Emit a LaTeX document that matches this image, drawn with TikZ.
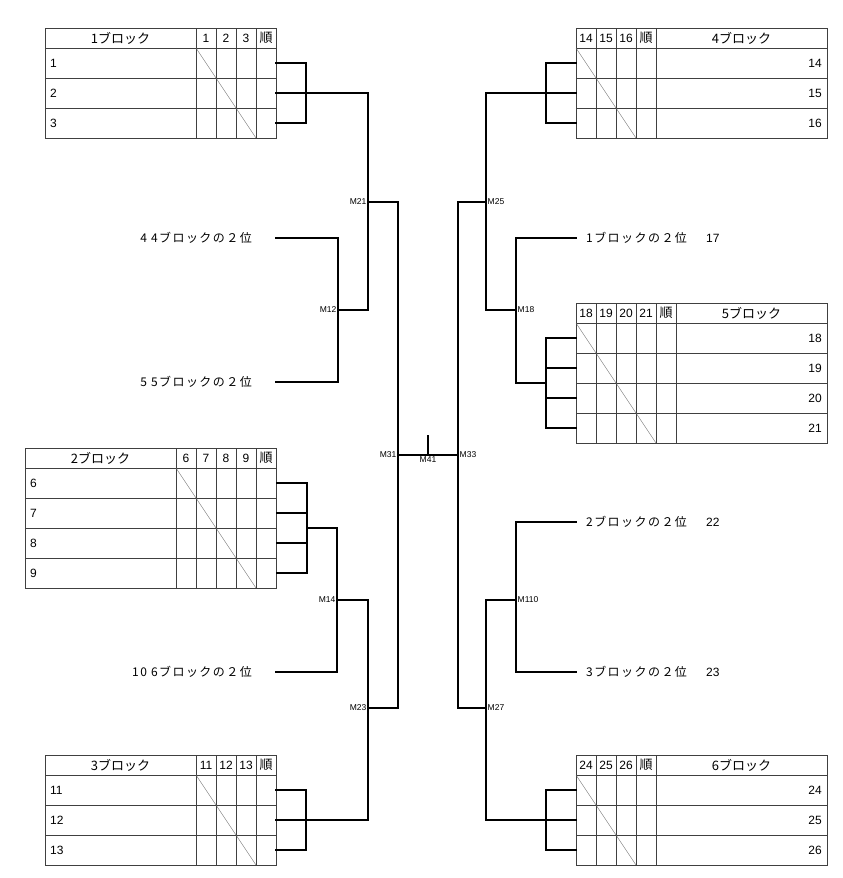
\documentclass[tikz,border=0pt]{standalone}
\usepackage{fontspec}
\setmainfont{Liberation Sans}
\newfontfamily\jp{Noto Sans CJK JP}
\newfontfamily\jpw[LetterSpace=12]{Noto Sans CJK JP}
\begin{document}
\begin{tikzpicture}[
    x=1pt, y=-1pt,
    grid/.style={draw=black!75, line width=0.6pt},
    diag/.style={draw=black!60, line width=0.4pt},
    conn/.style={line width=1.6pt, line cap=rect},
    num/.style={font=\fontsize{12}{14}\selectfont, inner sep=0pt},
    title/.style={font=\jp\fontsize{13}{15}\selectfont, inner sep=0pt},
    mlab/.style={font=\fontsize{8.5}{10}\selectfont, inner sep=1.5pt},
    seed/.style={font=\jpw\fontsize{12}{14}\selectfont, inner sep=0pt}
]
    \useasboundingbox (0,0) rectangle (843,878);

    % --- block with names on the left ---
    \newcommand{\leftblock}[5]{%
        \pgfmathsetmacro{\cx}{276-20*(#5+1)}
        \pgfmathsetmacro{\yb}{#2+20+30*#5}
        \draw[grid] (#1,#2) rectangle (276,\yb);
        \foreach \i in {0,...,#5} {
            \draw[grid] (#1,#2+20+30*\i) -- (276,#2+20+30*\i);
            \draw[grid] (\cx+20*\i,#2) -- (\cx+20*\i,\yb);
        }
        \foreach \i in {1,...,#5} {
            \pgfmathtruncatemacro{\n}{#4+\i-1}
            \node[num] at (\cx+20*\i-10,#2+10) {\n};
            \node[num, anchor=west] at (#1+5,#2+5+30*\i) {\n};
        }
        \node[title] at (266,#2+10) {順};
        \node[title] at ({(#1+\cx)/2},#2+10) {#3};
        \draw[diag] (\cx,#2+20) -- (\cx+20*#5,\yb);
    }
    % --- block with names on the right ---
    \newcommand{\rightblock}[4]{%
        \pgfmathsetmacro{\cx}{576+20*(#4+1)}
        \pgfmathsetmacro{\yb}{#1+20+30*#4}
        \draw[grid] (576,#1) rectangle (827,\yb);
        \foreach \i in {0,...,#4} {
            \draw[grid] (576,#1+20+30*\i) -- (827,#1+20+30*\i);
            \draw[grid] (596+20*\i,#1) -- (596+20*\i,\yb);
        }
        \foreach \i in {1,...,#4} {
            \pgfmathtruncatemacro{\n}{#3+\i-1}
            \node[num] at (566+20*\i,#1+10) {\n};
            \node[num, anchor=east] at (822,#1+5+30*\i) {\n};
        }
        \node[title] at (\cx-10,#1+10) {順};
        \node[title] at ({(827+\cx)/2},#1+10) {#2};
        \draw[diag] (576,#1+20) -- (576+20*#4,\yb);
    }

    % --- Tables ---
    \leftblock{45}{28}{1ブロック}{1}{3}
    \leftblock{25}{448}{2ブロック}{6}{4}
    \leftblock{45}{755}{3ブロック}{11}{3}
    \rightblock{28}{4ブロック}{14}{3}
    \rightblock{303}{5ブロック}{18}{4}
    \rightblock{755}{6ブロック}{24}{3}

    % --- Seeds ---
    \node[seed, anchor=east] (s4) at (252,238) {4 4ブロックの２位};
    \node[seed, anchor=east] (s5) at (252,382) {5 5ブロックの２位};
    \node[seed, anchor=east] (s10) at (252,672) {10 6ブロックの２位};
    \node[seed, anchor=west] (s17) at (586,238) {1ブロックの２位};
    \node[seed, anchor=west] (s22) at (586,522) {2ブロックの２位};
    \node[seed, anchor=west] (s23) at (586,672) {3ブロックの２位};
    \node[num, anchor=west] at (706,238) {17};
    \node[num, anchor=west] at (706,522) {22};
    \node[num, anchor=west] at (706,672) {23};

    % --- Left side ---
    \coordinate (p1) at (276,63);
    \coordinate (p2) at (276,93);
    \coordinate (p3) at (276,123);
    \coordinate (j1) at (306,93);
    \coordinate (t21) at (368,93);
    \coordinate (q4) at (276,238);
    \coordinate (q5) at (276,382);
    \coordinate (m12) at (338,310);
    \coordinate (m21) at (368,202);
    \coordinate (p6) at (277,483);
    \coordinate (p7) at (277,513);
    \coordinate (p8) at (277,543);
    \coordinate (p9) at (277,573);
    \coordinate (j2) at (307,528);
    \coordinate (t14) at (337,528);
    \coordinate (q10) at (276,672);
    \coordinate (m14) at (337,600);
    \coordinate (p11) at (276,790);
    \coordinate (p12) at (276,820);
    \coordinate (p13) at (276,850);
    \coordinate (j3) at (306,820);
    \coordinate (b23) at (368,820);
    \coordinate (m23) at (368,708);
    \coordinate (m31) at (398,455);

    \draw[conn] (p1) -| (j1) |- (p3);
    \draw[conn] (p2) -- (t21);
    \draw[conn] (q4) -| (m12) |- (q5);
    \draw[conn] (m12) -| (t21);
    \draw[conn] (m21) -| (m31);
    \draw[conn] (p6) -| (j2 |- p9) -- (p9);
    \draw[conn] (p7) -- (p7 -| j2);
    \draw[conn] (p8) -- (p8 -| j2);
    \draw[conn] (j2) -- (t14) |- (q10);
    \draw[conn] (m14) -| (b23);
    \draw[conn] (p11) -| (j3) |- (p13);
    \draw[conn] (p12) -- (b23);
    \draw[conn] (m23) -| (m31);

    % --- Right side ---
    \coordinate (r14) at (576,63);
    \coordinate (r15) at (576,93);
    \coordinate (r16) at (576,123);
    \coordinate (k1) at (546,93);
    \coordinate (t25) at (486,93);
    \coordinate (q17) at (576,238);
    \coordinate (m18) at (516,310);
    \coordinate (m25) at (486,202);
    \coordinate (r18) at (576,338);
    \coordinate (r19) at (576,368);
    \coordinate (r20) at (576,398);
    \coordinate (r21) at (576,428);
    \coordinate (k2) at (546,383);
    \coordinate (b18) at (516,383);
    \coordinate (q22) at (576,522);
    \coordinate (q23) at (576,672);
    \coordinate (m110) at (516,600);
    \coordinate (r24) at (576,790);
    \coordinate (r25) at (576,820);
    \coordinate (r26) at (576,850);
    \coordinate (k3) at (546,820);
    \coordinate (b27) at (486,820);
    \coordinate (m27) at (486,708);
    \coordinate (m33) at (458,455);

    \draw[conn] (r14) -| (k1) |- (r16);
    \draw[conn] (r15) -- (t25);
    \draw[conn] (q17) -| (b18) -- (k2);
    \draw[conn] (m18) -| (t25);
    \draw[conn] (m25) -| (m33);
    \draw[conn] (r18) -| (k2 |- r21) -- (r21);
    \draw[conn] (r19) -- (r19 -| k2);
    \draw[conn] (r20) -- (r20 -| k2);
    \draw[conn] (q22) -| (m110) |- (q23);
    \draw[conn] (m110) -| (b27);
    \draw[conn] (r24) -| (k3) |- (r26);
    \draw[conn] (r25) -- (b27);
    \draw[conn] (m27) -| (m33);

    % --- Final ---
    \coordinate (m41) at (428,455);
    \coordinate (t41) at (428,436);
    \draw[conn] (m31) -- (m33);
    \draw[conn] (m41) -- (t41);

    % --- Match labels ---
    \node[mlab, anchor=east] at (m21) {M21};
    \node[mlab, anchor=east] at (m12) {M12};
    \node[mlab, anchor=east] at (m14) {M14};
    \node[mlab, anchor=east] at (m23) {M23};
    \node[mlab, anchor=east] at (m31) {M31};
    \node[mlab, anchor=north] at (m41) {M41};
    \node[mlab, anchor=west] at (m33) {M33};
    \node[mlab, anchor=west] at (m25) {M25};
    \node[mlab, anchor=west] at (m18) {M18};
    \node[mlab, anchor=west] at (m110) {M110};
    \node[mlab, anchor=west] at (m27) {M27};
\end{tikzpicture}
\end{document}
